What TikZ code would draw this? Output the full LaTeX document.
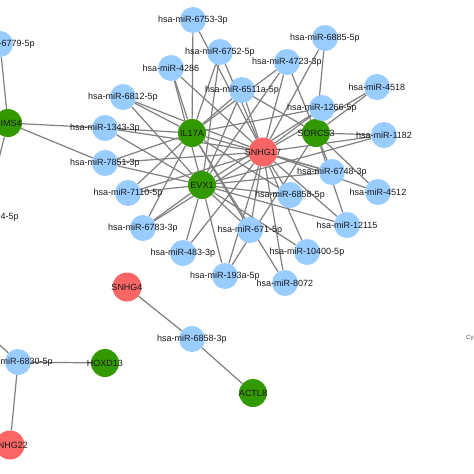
\documentclass[tikz,border=0pt]{standalone}
\usepackage{fontspec}
\setmainfont{Liberation Sans}
\pgfdeclarelayer{bg}
\pgfsetlayers{bg,main}
\definecolor{mirc}{RGB}{153,204,255}
\definecolor{genec}{RGB}{51,153,0}
\definecolor{lncc}{RGB}{250,102,102}
\definecolor{edgec}{RGB}{128,128,128}
\newcommand\netnode[4]{\node[#1] (#2) at (#3) {};\node[lbl] (#2-t) at (#3) {#4};}
\begin{document}
\begin{tikzpicture}[x=1pt,y=-1pt,
  lbl/.style={font=\fontsize{9}{10}\selectfont, text=black!90, inner sep=0pt},
  mir/.style={circle, fill=mirc, minimum size=26pt, inner sep=0pt},
  gene/.style={circle, fill=genec, minimum size=28pt, inner sep=0pt},
  lnc/.style={circle, fill=lncc, minimum size=29pt, inner sep=0pt},
  edge/.style={draw=edgec, line width=1.2pt}]
\useasboundingbox (0,0) rectangle (474,474);
\clip (0,0) rectangle (474,474);
% hubs
\netnode{lnc}{s17}{263,152}{SNHG17}
\netnode{gene}{il}{192,133}{IL17A}
\netnode{gene}{evx}{202,185}{EVX1}
\netnode{gene}{sor}{316,133}{SORCS3}
\netnode{gene}{rims}{8,123}{RIMS4}
% miRNAs
\netnode{mir}{m6779}{0,44}{hsa-miR-6779-5p}
\netnode{mir}{mx4}{-16,217}{hsa-miR-6794-5p}
\netnode{mir}{m6753}{193,20}{hsa-miR-6753-3p}
\netnode{mir}{m6752}{220,52}{hsa-miR-6752-5p}
\netnode{mir}{m4286}{171,68}{hsa-miR-4286}
\netnode{mir}{m4723}{287,62}{hsa-miR-4723-3p}
\netnode{mir}{m6511}{242,90}{hsa-miR-6511a-5p}
\netnode{mir}{m6885}{325,38}{hsa-miR-6885-5p}
\netnode{mir}{m1266}{322,108}{hsa-miR-1266-5p}
\netnode{mir}{m4518}{377,87}{hsa-miR-4518}
\netnode{mir}{m1182}{384,135}{hsa-miR-1182}
\netnode{mir}{m6812}{123,97}{hsa-miR-6812-5p}
\netnode{mir}{m1343}{105,128}{hsa-miR-1343-3p}
\netnode{mir}{m7851}{105,163}{hsa-miR-7851-3p}
\netnode{mir}{m7110}{128,193}{hsa-miR-7110-5p}
\netnode{mir}{m6783}{143,228}{hsa-miR-6783-3p}
\netnode{mir}{m6748}{332,172}{hsa-miR-6748-3p}
\netnode{mir}{m4512}{378,192}{hsa-miR-4512}
\netnode{mir}{m12115}{347,225}{hsa-miR-12115}
\netnode{mir}{m6858}{290,195}{hsa-miR-6858-5p}
\netnode{mir}{m671}{250,230}{hsa-miR-671-5p}
\netnode{mir}{m10400}{307,252}{hsa-miR-10400-5p}
\netnode{mir}{m483}{183,253}{hsa-miR-483-3p}
\netnode{mir}{m193}{225,276}{hsa-miR-193a-5p}
\netnode{mir}{m8072}{285,283}{hsa-miR-8072}
% lower part
\netnode{lnc}{s4}{127,287}{SNHG4}
\netnode{mir}{m6858b}{192,339}{hsa-miR-6858-3p}
\netnode{gene}{actl}{253,393}{ACTL8}
\netnode{mir}{m6830}{18,362}{hsa-miR-6830-5p}
\netnode{gene}{hox}{105,363}{HOXD13}
\netnode{lnc}{s22}{10,445}{SNHG22}
\node[font=\fontsize{6}{7}\selectfont, text=black!70, anchor=west, inner sep=0pt] (cy) at (466,338) {Cy};
\coordinate (offA) at (-40,171);
\coordinate (offB) at (-40,308);
\begin{pgfonlayer}{bg}
\fill[white] (0,0) rectangle (474,474);
\foreach \b in {m6753,m6752,m4286,m6511,m4723,m6885,m1266,m4518,m1182,m6748,m4512,m12115,m10400,m8072,m671,m193,m483,m6858,m6783,m7110,m7851,m1343,m6812}
  \draw[edge] (s17) -- (\b);
\foreach \b in {m6753,m6752,m4286,m6511,m4723,m1266,m6812,m1343,m7851,m7110,m6858,m671,m8072,m6748,m6783}
  \draw[edge] (il) -- (\b);
\foreach \b in {m6752,m6511,m4723,m6812,m1343,m7851,m7110,m6783,m483,m193,m671,m10400,m6858,m12115,m6748,m1182,m1266,m4286}
  \draw[edge] (evx) -- (\b);
\foreach \b in {m6885,m4723,m1266,m4518,m1182,m6748,m12115,m193,m4512,m6511}
  \draw[edge] (sor) -- (\b);
\foreach \b in {m6779,m1343,m7851,mx4,offA}
  \draw[edge] (rims) -- (\b);
\draw[edge] (s4) -- (m6858b);
\draw[edge] (m6858b) -- (actl);
\draw[edge] (m6830) -- (hox);
\draw[edge] (m6830) -- (s22);
\draw[edge] (m6830) -- (offB);
\end{pgfonlayer}
\end{tikzpicture}
\end{document}
